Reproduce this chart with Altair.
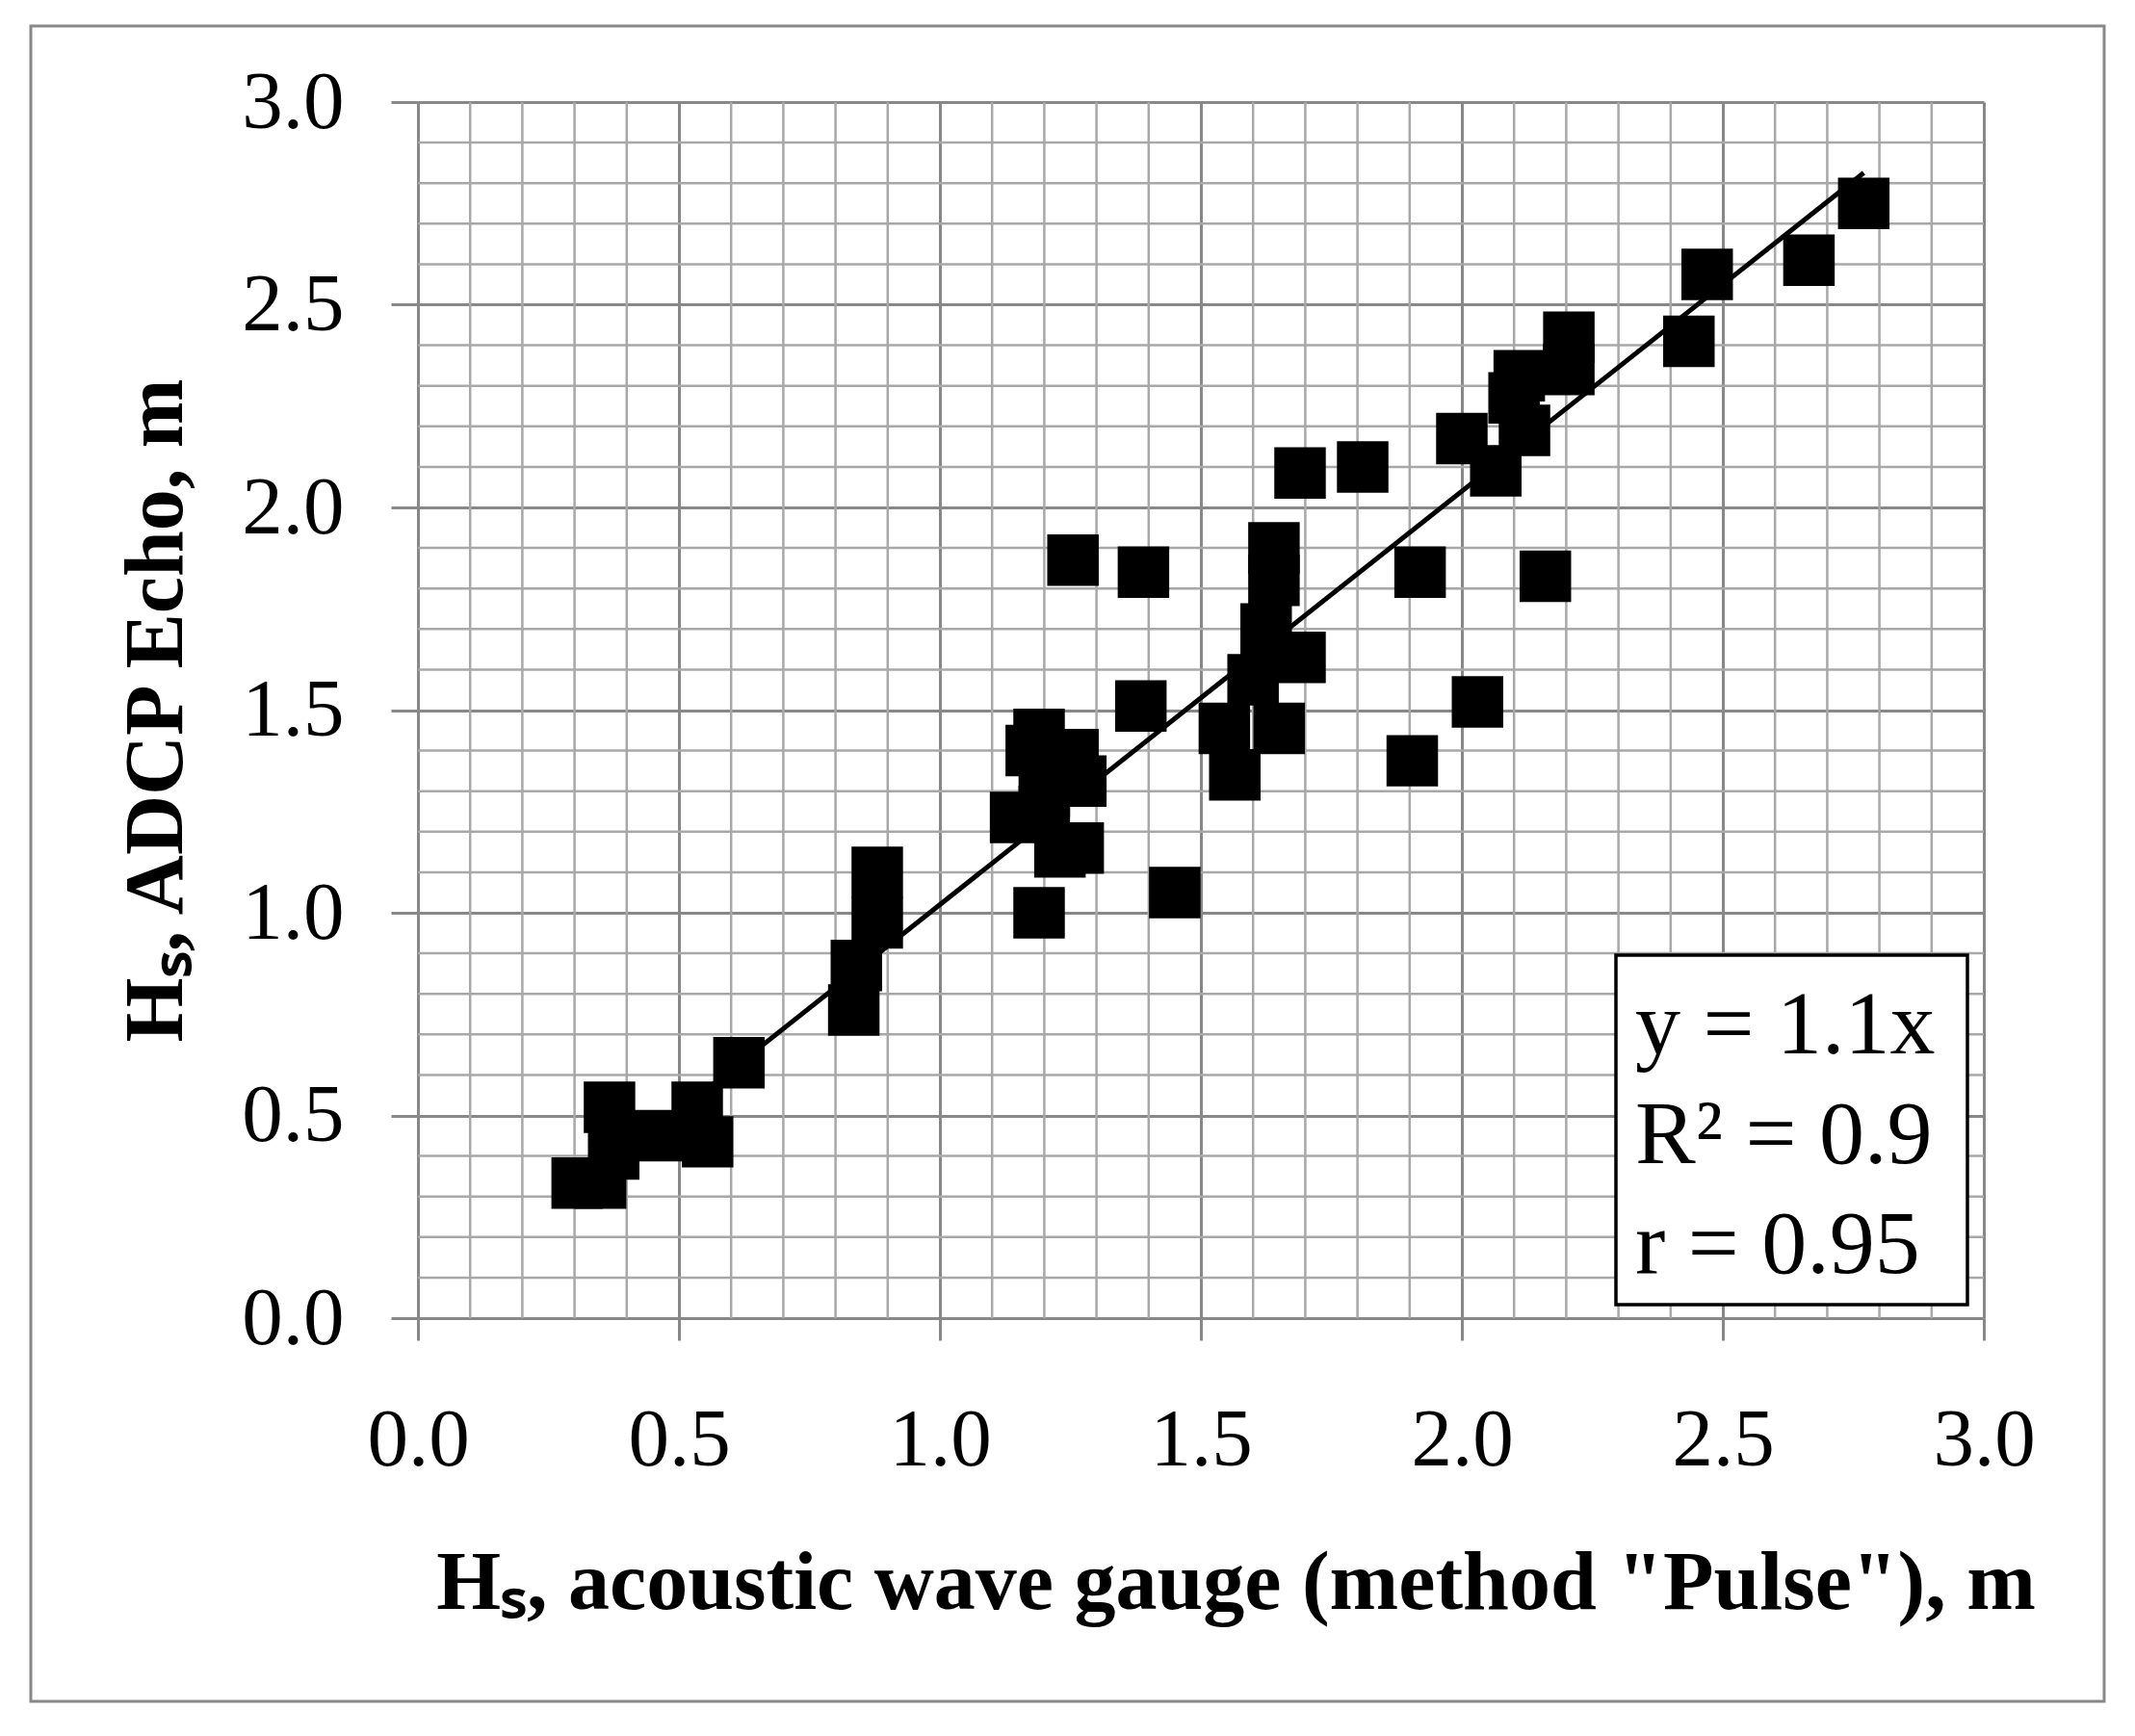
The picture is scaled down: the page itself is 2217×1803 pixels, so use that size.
import altair as alt
import pandas as pd

# ---- data ----
pulse_hs = [0.305, 0.350, 0.367, 0.375, 0.460, 0.535, 0.555, 0.615,
            0.835, 0.840, 0.880, 0.880,
            1.145, 1.175, 1.190, 1.190, 1.200, 1.200, 1.230, 1.255, 1.265, 1.270,
            1.255, 1.385, 1.390, 1.450,
            1.545, 1.565, 1.600, 1.625, 1.640, 1.640, 1.650, 1.690, 1.690, 1.810,
            1.905, 1.920, 2.000, 2.030, 2.065, 2.100, 2.110, 2.120, 2.160,
            2.205, 2.205, 2.435, 2.470, 2.665, 2.770]
adcp_hs = [0.333, 0.333, 0.520, 0.405, 0.450, 0.520, 0.435, 0.630,
           0.760, 0.870, 0.975, 1.100,
           1.235, 1.400, 1.440, 1.000, 1.300, 1.250, 1.150, 1.390, 1.160, 1.325,
           1.870, 1.510, 1.840, 1.050,
           1.455, 1.340, 1.575, 1.700, 1.820, 1.900, 1.455, 1.630, 2.085, 2.100,
           1.375, 1.840, 2.170, 1.520, 2.090, 2.270, 2.325, 2.190, 1.830,
           2.340, 2.420, 2.410, 2.575, 2.610, 2.750]
trend_slope = 1.02
major_ticks = [0.0, 0.5, 1.0, 1.5, 2.0, 2.5, 3.0]
minor_ticks = [0.1, 0.2, 0.3, 0.4, 0.6, 0.7, 0.8, 0.9, 1.1, 1.2, 1.3, 1.4,
               1.6, 1.7, 1.8, 1.9, 2.1, 2.2, 2.3, 2.4, 2.6, 2.7, 2.8, 2.9]
stats_lines = ["y = 1.1x", "R\u00b2 = 0.9", "r = 0.95"]
x_title = 'H\u209b, acoustic wave gauge (method "Pulse"), m'
y_title = "H\u209b, ADCP Echo, m"

pts = pd.DataFrame({"x": pulse_hs, "y": adcp_hs})
xmin, xmax = min(pulse_hs), max(pulse_hs)
trend = pd.DataFrame({"x": [xmin, xmax], "y": [trend_slope * xmin, trend_slope * xmax]})
minor = pd.DataFrame({"v": minor_ticks})
one = pd.DataFrame({"k": [0]})

W, H = 1626, 1263
FONT = "Liberation Serif"
GRID = "#888888"

xscale = alt.Scale(domain=[0, 3], nice=False)
yscale = alt.Scale(domain=[0, 3], nice=False)

xaxis = alt.Axis(values=major_ticks, format=".1f", tickSize=23, labelPadding=62,
                 labelFlush=False, labelOverlap=False,
                 title=x_title, titleX=849, titleY=301, titleBaseline="alphabetic",
                 titleAlign="center")
yaxis = alt.Axis(values=major_ticks, format=".1f", tickSize=28, labelPadding=49,
                 labelFlush=False, labelOverlap=False,
                 title=y_title, titleX=-246, titleY=H / 2, titleAngle=270,
                 titleBaseline="alphabetic", titleAlign="center")

X = alt.X("x:Q", scale=xscale, axis=xaxis)
Y = alt.Y("y:Q", scale=yscale, axis=yaxis)

grid_v = alt.Chart(minor).mark_rule(color="#a8a8a8", strokeWidth=2.5).encode(
    x=alt.X("v:Q", scale=xscale, axis=xaxis))
grid_h = alt.Chart(minor).mark_rule(color="#a8a8a8", strokeWidth=2.5).encode(
    y=alt.Y("v:Q", scale=yscale, axis=yaxis))

line = alt.Chart(trend).mark_line(color="black", strokeWidth=5).encode(x=X, y=Y)
squares = alt.Chart(pts).mark_point(shape="square", filled=True, color="black",
                                     size=2860, opacity=1).encode(x=X, y=Y)

box = alt.Chart(one).mark_rect(fill="white", stroke="black", strokeWidth=3.5).encode(
    x=alt.value(1244), x2=alt.value(1609), y=alt.value(886), y2=alt.value(1249))
stats = alt.Chart(one).mark_text(align="left", baseline="alphabetic", font=FONT,
                                  fontSize=94, lineHeight=114, color="black").encode(
    x=alt.value(1264), y=alt.value(988), text=alt.value(stats_lines))
frame = alt.Chart(one).mark_rect(filled=False, stroke=GRID, strokeWidth=3).encode(
    x=alt.value(-402), x2=alt.value(1751), y=alt.value(-79), y2=alt.value(1661))

chart = alt.layer(grid_v, grid_h, line, squares, box, stats, frame).properties(
    width=W, height=H, autosize="none",
    padding={"left": 426, "top": 98, "right": 140, "bottom": 420},
    background="white",
).configure_view(stroke=None).configure_axis(
    domainColor=GRID, domainWidth=3, tickColor=GRID, tickWidth=3,
    gridColor=GRID, gridWidth=3, grid=True,
    labelFont=FONT, labelFontSize=85, labelColor="black",
    titleFont=FONT, titleFontSize=86, titleFontWeight="bold", titleColor="black",
)

chart.save("out.html", embed_options={"renderer": "svg", "actions": False})
